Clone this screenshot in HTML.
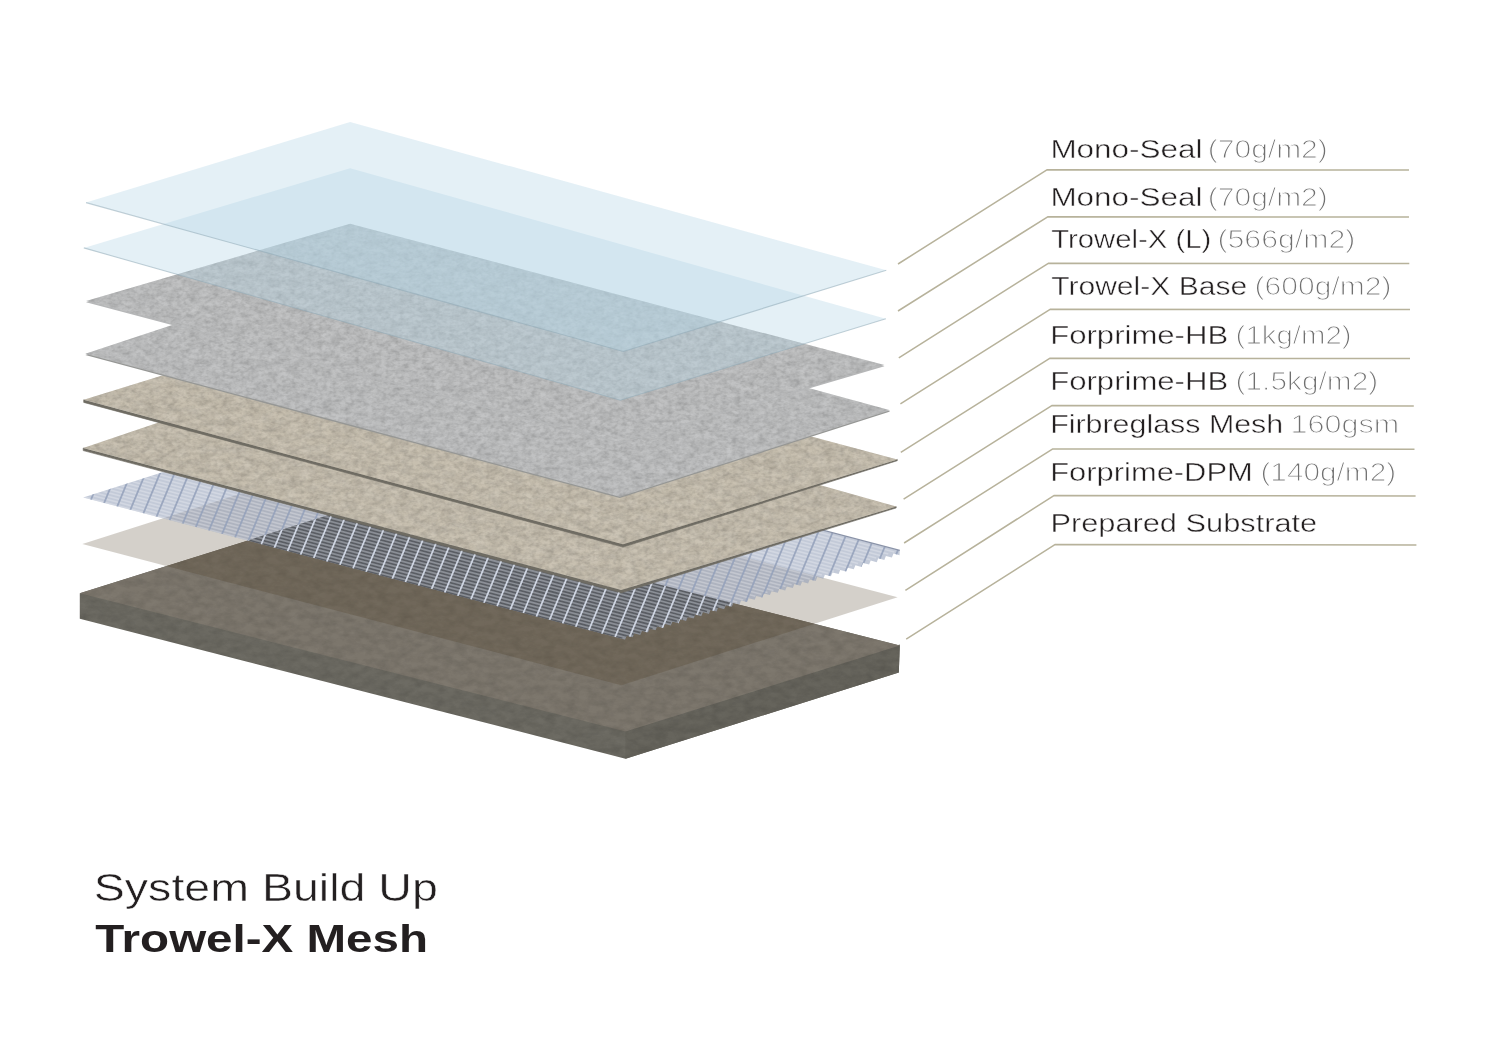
<!DOCTYPE html>
<html><head><meta charset="utf-8"><title>System Build Up - Trowel-X Mesh</title>
<style>
html,body{margin:0;padding:0;background:#fff;}
body{width:1500px;height:1061px;overflow:hidden;font-family:"Liberation Sans",sans-serif;}
svg{display:block}
text{font-family:"Liberation Sans",sans-serif;}
.lb{font-size:26px;}
.dk{fill:#231f20;stroke:#fff;stroke-width:0.45px;}
.lt{fill:#707070;stroke:#fff;stroke-width:1.05px;}
.t1{font-size:39.6px;fill:#231f20;stroke:#fff;stroke-width:0.5px;}
.t2{font-size:39.4px;font-weight:bold;fill:#231f20;}
</style></head><body>
<svg width="1500" height="1061" viewBox="0 0 1500 1061">
<defs>
<filter id="mot" x="0" y="0" width="100%" height="100%" color-interpolation-filters="sRGB">
 <feTurbulence type="fractalNoise" baseFrequency="0.09 0.15" numOctaves="5" seed="7" result="n"/>
 <feColorMatrix in="n" type="matrix" values="0 0 0 0 0  0 0 0 0 0  0 0 0 0 0  1.3 0 0 0 -0.42" result="a"/>
 <feComposite in="a" in2="SourceGraphic" operator="in"/>
</filter>
<filter id="grain" x="0" y="0" width="100%" height="100%" color-interpolation-filters="sRGB">
 <feTurbulence type="fractalNoise" baseFrequency="0.22 0.34" numOctaves="2" seed="3" result="n"/>
 <feColorMatrix in="n" type="matrix" values="0 0 0 0 0  0 0 0 0 0  0 0 0 0 0  0 0 2.4 0 -0.95" result="a"/>
 <feComposite in="a" in2="SourceGraphic" operator="in"/>
</filter>
<filter id="motL" x="0" y="0" width="100%" height="100%" color-interpolation-filters="sRGB">
 <feTurbulence type="fractalNoise" baseFrequency="0.08 0.13" numOctaves="5" seed="21" result="n"/>
 <feColorMatrix in="n" type="matrix" values="0 0 0 0 1  0 0 0 0 1  0 0 0 0 1  0 1.3 0 0 -0.42" result="a"/>
 <feComposite in="a" in2="SourceGraphic" operator="in"/>
</filter>
<clipPath id="c9"><polygon points="79.8,593.2 354.1,507.1 899.8,645.5 625.5,731.6"/></clipPath>
<clipPath id="c7"><polygon points="83.2,497.4 361.7,409.1 899.8,550.4 899.5,555.2 893.5,553.6 891.9,557.5 885.9,556.0 884.3,559.9 878.3,558.3 876.7,562.2 870.7,560.6 869.1,564.6 863.1,563.0 861.4,566.9 855.4,565.3 853.8,569.3 847.8,567.7 846.2,571.6 840.2,570.0 838.6,574.0 832.6,572.4 830.9,576.3 824.9,574.7 823.3,578.7 817.3,577.1 815.7,581.0 809.7,579.4 808.1,583.4 802.1,581.8 800.4,585.7 794.4,584.1 792.8,588.0 786.8,586.5 785.2,590.4 779.2,588.8 777.6,592.7 771.6,591.2 769.9,595.1 763.9,593.5 762.3,597.4 756.3,595.9 754.7,599.8 748.7,598.2 747.1,602.1 741.1,600.5 739.5,604.5 733.5,602.9 731.8,606.8 725.8,605.2 724.2,609.2 718.2,607.6 716.6,611.5 710.6,609.9 709.0,613.9 703.0,612.3 701.3,616.2 695.3,614.6 693.7,618.6 687.7,617.0 686.1,620.9 680.1,619.3 678.5,623.3 672.5,621.7 670.8,625.6 664.8,624.0 663.2,627.9 657.2,626.4 655.6,630.3 649.6,628.7 648.0,632.6 642.0,631.1 640.3,635.0 634.3,633.4 632.7,637.3 626.7,635.8 625.1,639.7 619.1,638.1"/></clipPath>
</defs>
<polygon points="79.8,593.2 354.1,507.1 899.8,645.5 898.8,672.5 625.5,758.7 79.8,618.8" fill="#6b6961"/>
<polygon points="625.5,728.6 899.8,644.5 898.8,672.5 625.5,758.7" fill="#65635b"/>
<polygon points="79.8,593.2 354.1,507.1 899.8,645.5 625.5,731.6" fill="#7c766c"/>
<polygon points="79.8,593.2 354.1,507.1 899.8,645.5 898.8,672.5 625.5,758.7 79.8,618.8" fill="#3d3a33" filter="url(#mot)" opacity="0.15"/>
<polygon points="79.8,593.2 354.1,507.1 899.8,645.5 898.8,672.5 625.5,758.7 79.8,618.8" fill="#fff" filter="url(#motL)" opacity="0.03"/>
<polygon points="82.4,544.0 358.7,455.9 897.6,597.2 621.3,685.3" fill="rgb(76,59,34)" fill-opacity="0.24"/>
<polygon points="83.2,497.4 361.7,409.1 899.8,550.4 899.5,555.2 893.5,553.6 891.9,557.5 885.9,556.0 884.3,559.9 878.3,558.3 876.7,562.2 870.7,560.6 869.1,564.6 863.1,563.0 861.4,566.9 855.4,565.3 853.8,569.3 847.8,567.7 846.2,571.6 840.2,570.0 838.6,574.0 832.6,572.4 830.9,576.3 824.9,574.7 823.3,578.7 817.3,577.1 815.7,581.0 809.7,579.4 808.1,583.4 802.1,581.8 800.4,585.7 794.4,584.1 792.8,588.0 786.8,586.5 785.2,590.4 779.2,588.8 777.6,592.7 771.6,591.2 769.9,595.1 763.9,593.5 762.3,597.4 756.3,595.9 754.7,599.8 748.7,598.2 747.1,602.1 741.1,600.5 739.5,604.5 733.5,602.9 731.8,606.8 725.8,605.2 724.2,609.2 718.2,607.6 716.6,611.5 710.6,609.9 709.0,613.9 703.0,612.3 701.3,616.2 695.3,614.6 693.7,618.6 687.7,617.0 686.1,620.9 680.1,619.3 678.5,623.3 672.5,621.7 670.8,625.6 664.8,624.0 663.2,627.9 657.2,626.4 655.6,630.3 649.6,628.7 648.0,632.6 642.0,631.1 640.3,635.0 634.3,633.4 632.7,637.3 626.7,635.8 625.1,639.7 619.1,638.1" fill="rgb(140,153,180)" fill-opacity="0.52"/>
<g clip-path="url(#c7)">
<path d="M84.3 497.0l538.1 141.3 M90.4 495.1l538.1 141.3 M96.4 493.2l538.1 141.3 M102.4 491.3l538.1 141.3 M108.5 489.4l538.1 141.3 M114.5 487.5l538.1 141.3 M120.6 485.6l538.1 141.3 M126.6 483.6l538.1 141.3 M132.7 481.7l538.1 141.3 M138.7 479.8l538.1 141.3 M144.7 477.9l538.1 141.3 M150.8 476.0l538.1 141.3 M156.8 474.1l538.1 141.3 M162.9 472.1l538.1 141.3 M168.9 470.2l538.1 141.3 M175.0 468.3l538.1 141.3 M181.0 466.4l538.1 141.3 M187.1 464.5l538.1 141.3 M193.1 462.6l538.1 141.3 M199.1 460.6l538.1 141.3 M205.2 458.7l538.1 141.3 M211.2 456.8l538.1 141.3 M217.3 454.9l538.1 141.3 M223.3 453.0l538.1 141.3 M229.4 451.1l538.1 141.3 M235.4 449.1l538.1 141.3 M241.4 447.2l538.1 141.3 M247.5 445.3l538.1 141.3 M253.5 443.4l538.1 141.3 M259.6 441.5l538.1 141.3 M265.6 439.6l538.1 141.3 M271.7 437.6l538.1 141.3 M277.7 435.7l538.1 141.3 M283.7 433.8l538.1 141.3 M289.8 431.9l538.1 141.3 M295.8 430.0l538.1 141.3 M301.9 428.1l538.1 141.3 M307.9 426.2l538.1 141.3 M314.0 424.2l538.1 141.3 M320.0 422.3l538.1 141.3 M326.1 420.4l538.1 141.3 M332.1 418.5l538.1 141.3 M338.1 416.6l538.1 141.3 M344.2 414.7l538.1 141.3 M350.2 412.7l538.1 141.3 M356.3 410.8l538.1 141.3 M362.3 408.9l538.1 141.3 M368.4 407.0l538.1 141.3" stroke="#fff" stroke-opacity="0.26" stroke-width="1.6" fill="none"/>
<path d="M-113.1 466.4l126.1 -304.9 M-100.0 469.8l126.1 -304.9 M-86.9 473.3l126.1 -304.9 M-73.8 476.7l126.1 -304.9 M-60.7 480.1l126.1 -304.9 M-47.6 483.6l126.1 -304.9 M-34.5 487.0l126.1 -304.9 M-21.4 490.5l126.1 -304.9 M-8.3 493.9l126.1 -304.9 M4.8 497.3l126.1 -304.9 M17.9 500.8l126.1 -304.9 M31.0 504.2l126.1 -304.9 M44.1 507.7l126.1 -304.9 M57.2 511.1l126.1 -304.9 M70.3 514.5l126.1 -304.9 M83.4 518.0l126.1 -304.9 M96.5 521.4l126.1 -304.9 M109.6 524.9l126.1 -304.9 M122.7 528.3l126.1 -304.9 M135.8 531.7l126.1 -304.9 M148.9 535.2l126.1 -304.9 M162.0 538.6l126.1 -304.9 M175.1 542.1l126.1 -304.9 M188.2 545.5l126.1 -304.9 M201.3 548.9l126.1 -304.9 M214.4 552.4l126.1 -304.9 M227.5 555.8l126.1 -304.9 M240.6 559.3l126.1 -304.9 M253.7 562.7l126.1 -304.9 M266.8 566.1l126.1 -304.9 M279.9 569.6l126.1 -304.9 M293.0 573.0l126.1 -304.9 M306.1 576.5l126.1 -304.9 M319.2 579.9l126.1 -304.9 M332.3 583.3l126.1 -304.9 M345.4 586.8l126.1 -304.9 M358.5 590.2l126.1 -304.9 M371.6 593.7l126.1 -304.9 M384.7 597.1l126.1 -304.9 M397.8 600.5l126.1 -304.9 M410.9 604.0l126.1 -304.9 M424.0 607.4l126.1 -304.9 M437.1 610.9l126.1 -304.9 M450.2 614.3l126.1 -304.9 M463.3 617.7l126.1 -304.9 M476.4 621.2l126.1 -304.9 M489.5 624.6l126.1 -304.9 M502.6 628.1l126.1 -304.9 M515.7 631.5l126.1 -304.9 M528.8 634.9l126.1 -304.9 M541.9 638.4l126.1 -304.9 M555.0 641.8l126.1 -304.9 M568.1 645.3l126.1 -304.9 M581.2 648.7l126.1 -304.9 M594.3 652.1l126.1 -304.9 M607.4 655.6l126.1 -304.9 M620.5 659.0l126.1 -304.9 M633.6 662.5l126.1 -304.9 M646.7 665.9l126.1 -304.9 M659.8 669.3l126.1 -304.9 M672.9 672.8l126.1 -304.9 M686.0 676.2l126.1 -304.9 M699.1 679.7l126.1 -304.9 M712.2 683.1l126.1 -304.9 M725.3 686.5l126.1 -304.9 M738.4 690.0l126.1 -304.9 M751.5 693.4l126.1 -304.9 M764.6 696.9l126.1 -304.9 M777.7 700.3l126.1 -304.9 M790.8 703.7l126.1 -304.9 M803.9 707.2l126.1 -304.9 M817.0 710.6l126.1 -304.9 M830.1 714.1l126.1 -304.9 M843.2 717.5l126.1 -304.9 M856.3 720.9l126.1 -304.9 M869.4 724.4l126.1 -304.9 M882.5 727.8l126.1 -304.9 M895.6 731.3l126.1 -304.9 M908.7 734.7l126.1 -304.9 M921.8 738.1l126.1 -304.9 M934.9 741.6l126.1 -304.9 M948.0 745.0l126.1 -304.9 M961.1 748.5l126.1 -304.9 M974.2 751.9l126.1 -304.9 M987.3 755.3l126.1 -304.9" stroke="#93a0ba" stroke-opacity="0.85" stroke-width="1.8" fill="none"/>
<g clip-path="url(#c9)">
<polygon points="83.2,497.4 361.7,409.1 899.8,550.4 899.5,555.2 893.5,553.6 891.9,557.5 885.9,556.0 884.3,559.9 878.3,558.3 876.7,562.2 870.7,560.6 869.1,564.6 863.1,563.0 861.4,566.9 855.4,565.3 853.8,569.3 847.8,567.7 846.2,571.6 840.2,570.0 838.6,574.0 832.6,572.4 830.9,576.3 824.9,574.7 823.3,578.7 817.3,577.1 815.7,581.0 809.7,579.4 808.1,583.4 802.1,581.8 800.4,585.7 794.4,584.1 792.8,588.0 786.8,586.5 785.2,590.4 779.2,588.8 777.6,592.7 771.6,591.2 769.9,595.1 763.9,593.5 762.3,597.4 756.3,595.9 754.7,599.8 748.7,598.2 747.1,602.1 741.1,600.5 739.5,604.5 733.5,602.9 731.8,606.8 725.8,605.2 724.2,609.2 718.2,607.6 716.6,611.5 710.6,609.9 709.0,613.9 703.0,612.3 701.3,616.2 695.3,614.6 693.7,618.6 687.7,617.0 686.1,620.9 680.1,619.3 678.5,623.3 672.5,621.7 670.8,625.6 664.8,624.0 663.2,627.9 657.2,626.4 655.6,630.3 649.6,628.7 648.0,632.6 642.0,631.1 640.3,635.0 634.3,633.4 632.7,637.3 626.7,635.8 625.1,639.7 619.1,638.1" fill="rgb(162,167,175)" fill-opacity="0.4"/>
<path d="M84.3 497.0l538.1 141.3 M90.4 495.1l538.1 141.3 M96.4 493.2l538.1 141.3 M102.4 491.3l538.1 141.3 M108.5 489.4l538.1 141.3 M114.5 487.5l538.1 141.3 M120.6 485.6l538.1 141.3 M126.6 483.6l538.1 141.3 M132.7 481.7l538.1 141.3 M138.7 479.8l538.1 141.3 M144.7 477.9l538.1 141.3 M150.8 476.0l538.1 141.3 M156.8 474.1l538.1 141.3 M162.9 472.1l538.1 141.3 M168.9 470.2l538.1 141.3 M175.0 468.3l538.1 141.3 M181.0 466.4l538.1 141.3 M187.1 464.5l538.1 141.3 M193.1 462.6l538.1 141.3 M199.1 460.6l538.1 141.3 M205.2 458.7l538.1 141.3 M211.2 456.8l538.1 141.3 M217.3 454.9l538.1 141.3 M223.3 453.0l538.1 141.3 M229.4 451.1l538.1 141.3 M235.4 449.1l538.1 141.3 M241.4 447.2l538.1 141.3 M247.5 445.3l538.1 141.3 M253.5 443.4l538.1 141.3 M259.6 441.5l538.1 141.3 M265.6 439.6l538.1 141.3 M271.7 437.6l538.1 141.3 M277.7 435.7l538.1 141.3 M283.7 433.8l538.1 141.3 M289.8 431.9l538.1 141.3 M295.8 430.0l538.1 141.3 M301.9 428.1l538.1 141.3 M307.9 426.2l538.1 141.3 M314.0 424.2l538.1 141.3 M320.0 422.3l538.1 141.3 M326.1 420.4l538.1 141.3 M332.1 418.5l538.1 141.3 M338.1 416.6l538.1 141.3 M344.2 414.7l538.1 141.3 M350.2 412.7l538.1 141.3 M356.3 410.8l538.1 141.3 M362.3 408.9l538.1 141.3 M368.4 407.0l538.1 141.3" stroke="#2c2f35" stroke-opacity="0.6" stroke-width="1.7" fill="none"/>
<path d="M-113.1 466.4l126.1 -304.9 M-100.0 469.8l126.1 -304.9 M-86.9 473.3l126.1 -304.9 M-73.8 476.7l126.1 -304.9 M-60.7 480.1l126.1 -304.9 M-47.6 483.6l126.1 -304.9 M-34.5 487.0l126.1 -304.9 M-21.4 490.5l126.1 -304.9 M-8.3 493.9l126.1 -304.9 M4.8 497.3l126.1 -304.9 M17.9 500.8l126.1 -304.9 M31.0 504.2l126.1 -304.9 M44.1 507.7l126.1 -304.9 M57.2 511.1l126.1 -304.9 M70.3 514.5l126.1 -304.9 M83.4 518.0l126.1 -304.9 M96.5 521.4l126.1 -304.9 M109.6 524.9l126.1 -304.9 M122.7 528.3l126.1 -304.9 M135.8 531.7l126.1 -304.9 M148.9 535.2l126.1 -304.9 M162.0 538.6l126.1 -304.9 M175.1 542.1l126.1 -304.9 M188.2 545.5l126.1 -304.9 M201.3 548.9l126.1 -304.9 M214.4 552.4l126.1 -304.9 M227.5 555.8l126.1 -304.9 M240.6 559.3l126.1 -304.9 M253.7 562.7l126.1 -304.9 M266.8 566.1l126.1 -304.9 M279.9 569.6l126.1 -304.9 M293.0 573.0l126.1 -304.9 M306.1 576.5l126.1 -304.9 M319.2 579.9l126.1 -304.9 M332.3 583.3l126.1 -304.9 M345.4 586.8l126.1 -304.9 M358.5 590.2l126.1 -304.9 M371.6 593.7l126.1 -304.9 M384.7 597.1l126.1 -304.9 M397.8 600.5l126.1 -304.9 M410.9 604.0l126.1 -304.9 M424.0 607.4l126.1 -304.9 M437.1 610.9l126.1 -304.9 M450.2 614.3l126.1 -304.9 M463.3 617.7l126.1 -304.9 M476.4 621.2l126.1 -304.9 M489.5 624.6l126.1 -304.9 M502.6 628.1l126.1 -304.9 M515.7 631.5l126.1 -304.9 M528.8 634.9l126.1 -304.9 M541.9 638.4l126.1 -304.9 M555.0 641.8l126.1 -304.9 M568.1 645.3l126.1 -304.9 M581.2 648.7l126.1 -304.9 M594.3 652.1l126.1 -304.9 M607.4 655.6l126.1 -304.9 M620.5 659.0l126.1 -304.9 M633.6 662.5l126.1 -304.9 M646.7 665.9l126.1 -304.9 M659.8 669.3l126.1 -304.9 M672.9 672.8l126.1 -304.9 M686.0 676.2l126.1 -304.9 M699.1 679.7l126.1 -304.9 M712.2 683.1l126.1 -304.9 M725.3 686.5l126.1 -304.9 M738.4 690.0l126.1 -304.9 M751.5 693.4l126.1 -304.9 M764.6 696.9l126.1 -304.9 M777.7 700.3l126.1 -304.9 M790.8 703.7l126.1 -304.9 M803.9 707.2l126.1 -304.9 M817.0 710.6l126.1 -304.9 M830.1 714.1l126.1 -304.9 M843.2 717.5l126.1 -304.9 M856.3 720.9l126.1 -304.9 M869.4 724.4l126.1 -304.9 M882.5 727.8l126.1 -304.9 M895.6 731.3l126.1 -304.9 M908.7 734.7l126.1 -304.9 M921.8 738.1l126.1 -304.9 M934.9 741.6l126.1 -304.9 M948.0 745.0l126.1 -304.9 M961.1 748.5l126.1 -304.9 M974.2 751.9l126.1 -304.9 M987.3 755.3l126.1 -304.9" stroke="#d0d6e2" stroke-width="1.7" fill="none"/>
</g></g>
<line x1="361.7" y1="409.1" x2="899.8" y2="550.4" stroke="#8a93a8" stroke-width="1.2"/>
<polygon points="83.2,448.0 621.4,590.0 896.2,506.6 896.2,507.9 621.4,592.8 83.2,450.6" fill="#6f6c63" stroke="#6f6c63" stroke-width="0.6" stroke-linejoin="round"/>
<polygon points="83.2,448.0 358.0,355.1 896.2,506.6 621.4,590.0" fill="#c7bfaf"/>
<polygon points="83.2,448.0 358.0,355.1 896.2,506.6 621.4,590.0" fill="#8d8572" filter="url(#mot)" opacity="0.17"/>
<polygon points="83.2,448.0 358.0,355.1 896.2,506.6 621.4,590.0" fill="#fff" filter="url(#motL)" opacity="0.14"/>
<polygon points="83.2,448.0 358.0,355.1 896.2,506.6 621.4,590.0" fill="#6b6556" filter="url(#grain)" opacity="0.09"/>
<polygon points="83.7,399.8 623.0,544.3 897.3,459.4 897.3,460.7 623.0,547.1 83.7,402.4" fill="#6f6c63" stroke="#6f6c63" stroke-width="0.6" stroke-linejoin="round"/>
<polygon points="83.7,399.8 358.0,314.9 897.3,459.4 623.0,544.3" fill="#c7bfaf"/>
<polygon points="83.7,399.8 358.0,314.9 897.3,459.4 623.0,544.3" fill="#8d8572" filter="url(#mot)" opacity="0.17"/>
<polygon points="83.7,399.8 358.0,314.9 897.3,459.4 623.0,544.3" fill="#fff" filter="url(#motL)" opacity="0.14"/>
<polygon points="83.7,399.8 358.0,314.9 897.3,459.4 623.0,544.3" fill="#6b6556" filter="url(#grain)" opacity="0.09"/>
<polygon points="85.3,355.0 355.8,265.7 890.2,411.6 619.7,498.1" fill="#969795"/>
<polygon points="85.3,353.7 355.8,264.4 890.2,410.3 619.7,496.8" fill="#bfc0c1"/>
<polygon points="85.3,353.7 355.8,264.4 890.2,410.3 619.7,496.8" fill="#858688" filter="url(#mot)" opacity="0.14"/>
<polygon points="85.3,353.7 355.8,264.4 890.2,410.3 619.7,496.8" fill="#fff" filter="url(#motL)" opacity="0.13"/>
<polygon points="85.3,353.7 355.8,264.4 890.2,410.3 619.7,496.8" fill="#66686b" filter="url(#grain)" opacity="0.09"/>
<polygon points="86.0,302.3 350.1,225.0 884.5,366.3 620.4,443.6" fill="#b6b7b8"/>
<polygon points="86.0,301.0 350.1,223.7 884.5,365.0 620.4,442.3" fill="#bfc0c1"/>
<polygon points="86.0,301.0 350.1,223.7 884.5,365.0 620.4,442.3" fill="#858688" filter="url(#mot)" opacity="0.14"/>
<polygon points="86.0,301.0 350.1,223.7 884.5,365.0 620.4,442.3" fill="#fff" filter="url(#motL)" opacity="0.13"/>
<polygon points="86.0,301.0 350.1,223.7 884.5,365.0 620.4,442.3" fill="#66686b" filter="url(#grain)" opacity="0.09"/>
<polygon points="83.8,247.9 350.1,168.2 885.9,318.7 620.4,400.2" fill="rgb(181,214,230)" fill-opacity="0.36"/>
<polyline points="83.8,247.9 620.4,400.2 885.9,318.7" fill="none" stroke="#8fa9b6" stroke-opacity="0.55" stroke-width="1.1"/>
<polygon points="86.0,202.6 350.1,121.9 886.3,270.3 623.3,351.5" fill="rgb(181,214,230)" fill-opacity="0.36"/>
<polyline points="86.0,202.6 623.3,351.5 886.3,270.3" fill="none" stroke="#8fa9b6" stroke-opacity="0.55" stroke-width="1.1"/>
<polyline points="898.0,264.0 1047.3,169.7 1409.0,170.0" fill="none" stroke="#b7b29b" stroke-width="1.5" stroke-linejoin="round"/>
<polyline points="898.0,311.0 1047.7,216.8 1409.0,217.1" fill="none" stroke="#b7b29b" stroke-width="1.5" stroke-linejoin="round"/>
<polyline points="898.8,357.8 1048.3,263.3 1409.3,263.6" fill="none" stroke="#b7b29b" stroke-width="1.5" stroke-linejoin="round"/>
<polyline points="900.4,403.8 1050.5,309.2 1410.0,309.5" fill="none" stroke="#b7b29b" stroke-width="1.5" stroke-linejoin="round"/>
<polyline points="900.8,452.3 1050.1,358.2 1410.0,358.5" fill="none" stroke="#b7b29b" stroke-width="1.5" stroke-linejoin="round"/>
<polyline points="903.6,499.2 1051.8,405.6 1413.8,405.9" fill="none" stroke="#b7b29b" stroke-width="1.5" stroke-linejoin="round"/>
<polyline points="904.1,543.0 1052.8,448.9 1414.5,449.2" fill="none" stroke="#b7b29b" stroke-width="1.5" stroke-linejoin="round"/>
<polyline points="905.4,590.3 1053.9,495.6 1415.6,495.9" fill="none" stroke="#b7b29b" stroke-width="1.5" stroke-linejoin="round"/>
<polyline points="906.2,639.1 1054.9,544.6 1416.4,544.9" fill="none" stroke="#b7b29b" stroke-width="1.5" stroke-linejoin="round"/>
<g opacity="0.999">
<text id="d0" x="1050.40" y="158.4" class="lb dk" textLength="152.20" lengthAdjust="spacingAndGlyphs">Mono-Seal</text>
<text id="g0" x="1207.80" y="158.4" class="lb lt" textLength="120.00" lengthAdjust="spacingAndGlyphs">(70g/m2)</text>
<text id="d1" x="1050.40" y="206.0" class="lb dk" textLength="152.20" lengthAdjust="spacingAndGlyphs">Mono-Seal</text>
<text id="g1" x="1207.80" y="206.0" class="lb lt" textLength="120.00" lengthAdjust="spacingAndGlyphs">(70g/m2)</text>
<text id="d2" x="1051.20" y="247.8" class="lb dk" textLength="160.00" lengthAdjust="spacingAndGlyphs">Trowel-X (L)</text>
<text id="g2" x="1217.40" y="247.8" class="lb lt" textLength="138.00" lengthAdjust="spacingAndGlyphs">(566g/m2)</text>
<text id="d3" x="1051.20" y="295.2" class="lb dk" textLength="196.00" lengthAdjust="spacingAndGlyphs">Trowel-X Base</text>
<text id="g3" x="1254.60" y="295.2" class="lb lt" textLength="137.00" lengthAdjust="spacingAndGlyphs">(600g/m2)</text>
<text id="d4" x="1050.20" y="344.1" class="lb dk" textLength="178.00" lengthAdjust="spacingAndGlyphs">Forprime-HB</text>
<text id="g4" x="1235.60" y="344.1" class="lb lt" textLength="116.00" lengthAdjust="spacingAndGlyphs">(1kg/m2)</text>
<text id="d5" x="1050.20" y="389.7" class="lb dk" textLength="178.00" lengthAdjust="spacingAndGlyphs">Forprime-HB</text>
<text id="g5" x="1235.60" y="389.7" class="lb lt" textLength="142.60" lengthAdjust="spacingAndGlyphs">(1.5kg/m2)</text>
<text id="d6" x="1050.20" y="433.3" class="lb dk" textLength="233.00" lengthAdjust="spacingAndGlyphs">Firbreglass Mesh</text>
<text id="g6" x="1290.40" y="433.3" class="lb lt" textLength="108.80" lengthAdjust="spacingAndGlyphs">160gsm</text>
<text id="d7" x="1050.20" y="481.4" class="lb dk" textLength="202.60" lengthAdjust="spacingAndGlyphs">Forprime-DPM</text>
<text id="g7" x="1260.40" y="481.4" class="lb lt" textLength="135.80" lengthAdjust="spacingAndGlyphs">(140g/m2)</text>
<text id="d8" x="1050.40" y="531.6" class="lb dk" textLength="266.80" lengthAdjust="spacingAndGlyphs">Prepared Substrate</text>
<text id="t1" x="93.80" y="901.0" class="t1" textLength="344.00" lengthAdjust="spacingAndGlyphs">System Build Up</text>
<text id="t2" x="95.20" y="952" class="t2" textLength="332.80" lengthAdjust="spacingAndGlyphs">Trowel-X Mesh</text>
</g>
</svg>
</body></html>
